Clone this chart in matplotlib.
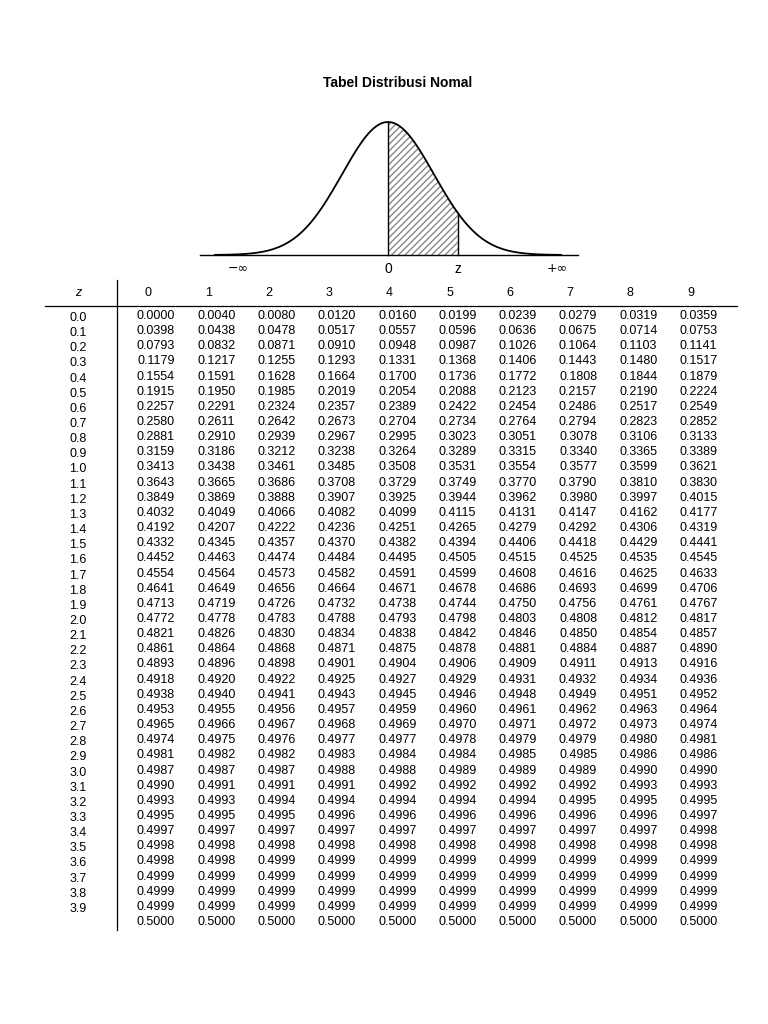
import numpy as np
import matplotlib.pyplot as plt

plt.rcParams['font.family'] = ['Liberation Sans', 'DejaVu Sans']

# ---------------- data ----------------
col_labels = ['0', '1', '2', '3', '4', '5', '6', '7', '8', '9']
row_labels = ['%.1f' % (i / 10) for i in range(40)]
rows = [
    "0.0000 0.0040 0.0080 0.0120 0.0160 0.0199 0.0239 0.0279 0.0319 0.0359",
    "0.0398 0.0438 0.0478 0.0517 0.0557 0.0596 0.0636 0.0675 0.0714 0.0753",
    "0.0793 0.0832 0.0871 0.0910 0.0948 0.0987 0.1026 0.1064 0.1103 0.1141",
    "0.1179 0.1217 0.1255 0.1293 0.1331 0.1368 0.1406 0.1443 0.1480 0.1517",
    "0.1554 0.1591 0.1628 0.1664 0.1700 0.1736 0.1772 0.1808 0.1844 0.1879",
    "0.1915 0.1950 0.1985 0.2019 0.2054 0.2088 0.2123 0.2157 0.2190 0.2224",
    "0.2257 0.2291 0.2324 0.2357 0.2389 0.2422 0.2454 0.2486 0.2517 0.2549",
    "0.2580 0.2611 0.2642 0.2673 0.2704 0.2734 0.2764 0.2794 0.2823 0.2852",
    "0.2881 0.2910 0.2939 0.2967 0.2995 0.3023 0.3051 0.3078 0.3106 0.3133",
    "0.3159 0.3186 0.3212 0.3238 0.3264 0.3289 0.3315 0.3340 0.3365 0.3389",
    "0.3413 0.3438 0.3461 0.3485 0.3508 0.3531 0.3554 0.3577 0.3599 0.3621",
    "0.3643 0.3665 0.3686 0.3708 0.3729 0.3749 0.3770 0.3790 0.3810 0.3830",
    "0.3849 0.3869 0.3888 0.3907 0.3925 0.3944 0.3962 0.3980 0.3997 0.4015",
    "0.4032 0.4049 0.4066 0.4082 0.4099 0.4115 0.4131 0.4147 0.4162 0.4177",
    "0.4192 0.4207 0.4222 0.4236 0.4251 0.4265 0.4279 0.4292 0.4306 0.4319",
    "0.4332 0.4345 0.4357 0.4370 0.4382 0.4394 0.4406 0.4418 0.4429 0.4441",
    "0.4452 0.4463 0.4474 0.4484 0.4495 0.4505 0.4515 0.4525 0.4535 0.4545",
    "0.4554 0.4564 0.4573 0.4582 0.4591 0.4599 0.4608 0.4616 0.4625 0.4633",
    "0.4641 0.4649 0.4656 0.4664 0.4671 0.4678 0.4686 0.4693 0.4699 0.4706",
    "0.4713 0.4719 0.4726 0.4732 0.4738 0.4744 0.4750 0.4756 0.4761 0.4767",
    "0.4772 0.4778 0.4783 0.4788 0.4793 0.4798 0.4803 0.4808 0.4812 0.4817",
    "0.4821 0.4826 0.4830 0.4834 0.4838 0.4842 0.4846 0.4850 0.4854 0.4857",
    "0.4861 0.4864 0.4868 0.4871 0.4875 0.4878 0.4881 0.4884 0.4887 0.4890",
    "0.4893 0.4896 0.4898 0.4901 0.4904 0.4906 0.4909 0.4911 0.4913 0.4916",
    "0.4918 0.4920 0.4922 0.4925 0.4927 0.4929 0.4931 0.4932 0.4934 0.4936",
    "0.4938 0.4940 0.4941 0.4943 0.4945 0.4946 0.4948 0.4949 0.4951 0.4952",
    "0.4953 0.4955 0.4956 0.4957 0.4959 0.4960 0.4961 0.4962 0.4963 0.4964",
    "0.4965 0.4966 0.4967 0.4968 0.4969 0.4970 0.4971 0.4972 0.4973 0.4974",
    "0.4974 0.4975 0.4976 0.4977 0.4977 0.4978 0.4979 0.4979 0.4980 0.4981",
    "0.4981 0.4982 0.4982 0.4983 0.4984 0.4984 0.4985 0.4985 0.4986 0.4986",
    "0.4987 0.4987 0.4987 0.4988 0.4988 0.4989 0.4989 0.4989 0.4990 0.4990",
    "0.4990 0.4991 0.4991 0.4991 0.4992 0.4992 0.4992 0.4992 0.4993 0.4993",
    "0.4993 0.4993 0.4994 0.4994 0.4994 0.4994 0.4994 0.4995 0.4995 0.4995",
    "0.4995 0.4995 0.4995 0.4996 0.4996 0.4996 0.4996 0.4996 0.4996 0.4997",
    "0.4997 0.4997 0.4997 0.4997 0.4997 0.4997 0.4997 0.4997 0.4997 0.4998",
    "0.4998 0.4998 0.4998 0.4998 0.4998 0.4998 0.4998 0.4998 0.4998 0.4998",
    "0.4998 0.4998 0.4999 0.4999 0.4999 0.4999 0.4999 0.4999 0.4999 0.4999",
    "0.4999 0.4999 0.4999 0.4999 0.4999 0.4999 0.4999 0.4999 0.4999 0.4999",
    "0.4999 0.4999 0.4999 0.4999 0.4999 0.4999 0.4999 0.4999 0.4999 0.4999",
    "0.4999 0.4999 0.4999 0.4999 0.4999 0.4999 0.4999 0.4999 0.4999 0.4999",
    "0.5000 0.5000 0.5000 0.5000 0.5000 0.5000 0.5000 0.5000 0.5000 0.5000",
]
table = [r.split() for r in rows]

# ---------------- figure (pixel coordinates) ----------------
fig = plt.figure(figsize=(7.68, 10.24), dpi=100)
ax = fig.add_axes([0, 0, 1, 1])
ax.set_xlim(0, 768)
ax.set_ylim(1024, 0)
ax.axis('off')

ax.text(398, 83, 'Tabel Distribusi Nomal', ha='center', va='center',
        fontsize=10, fontweight='bold')

# bell curve illustration
cx, base, peak, sig = 388, 255, 133, 46
xs = np.linspace(215, 561, 400)
ys = base - peak * np.exp(-0.5 * ((xs - cx) / sig) ** 2)
ax.plot(xs, ys, color='black', lw=1.3)
zx = 458
m = (xs >= cx) & (xs <= zx)
ax.fill_between(xs[m], ys[m], base, facecolor='none', edgecolor='#888888',
                hatch='/////', lw=0)
ax.plot([200, 578], [base, base], color='black', lw=1)
ax.plot([cx, cx], [base, base - peak], color='black', lw=1)
ax.plot([zx, zx], [base, base - peak * np.exp(-0.5 * ((zx - cx) / sig) ** 2)],
        color='black', lw=1)
ax.text(238, 268, '−∞', ha='center', va='center', fontsize=9, family=['DejaVu Sans'])
ax.text(cx, 269, '0', ha='center', va='center', fontsize=10)
ax.text(zx, 269, 'z', ha='center', va='center', fontsize=10)
ax.text(557, 268, '+∞', ha='center', va='center', fontsize=9, family=['DejaVu Sans'])

# table
colw = 60.3
ax.text(78, 293, 'z', ha='center', va='center', fontsize=9, style='italic')
for j, c in enumerate(col_labels):
    ax.text(148 + colw * j, 293, c, ha='center', va='center', fontsize=9)
ax.plot([45, 737], [306, 306], color='black', lw=0.9)
ax.plot([117, 117], [280, 930], color='black', lw=0.9)

rowh = 15.15
for i, lab in enumerate(row_labels):
    ax.text(78, 318 + rowh * i, lab, ha='center', va='center', fontsize=9)
for i, r in enumerate(table):
    for j, v in enumerate(r):
        ax.text(156 + colw * j, 316 + rowh * i, v, ha='center', va='center', fontsize=9)

fig.savefig('out.png', dpi=100)
